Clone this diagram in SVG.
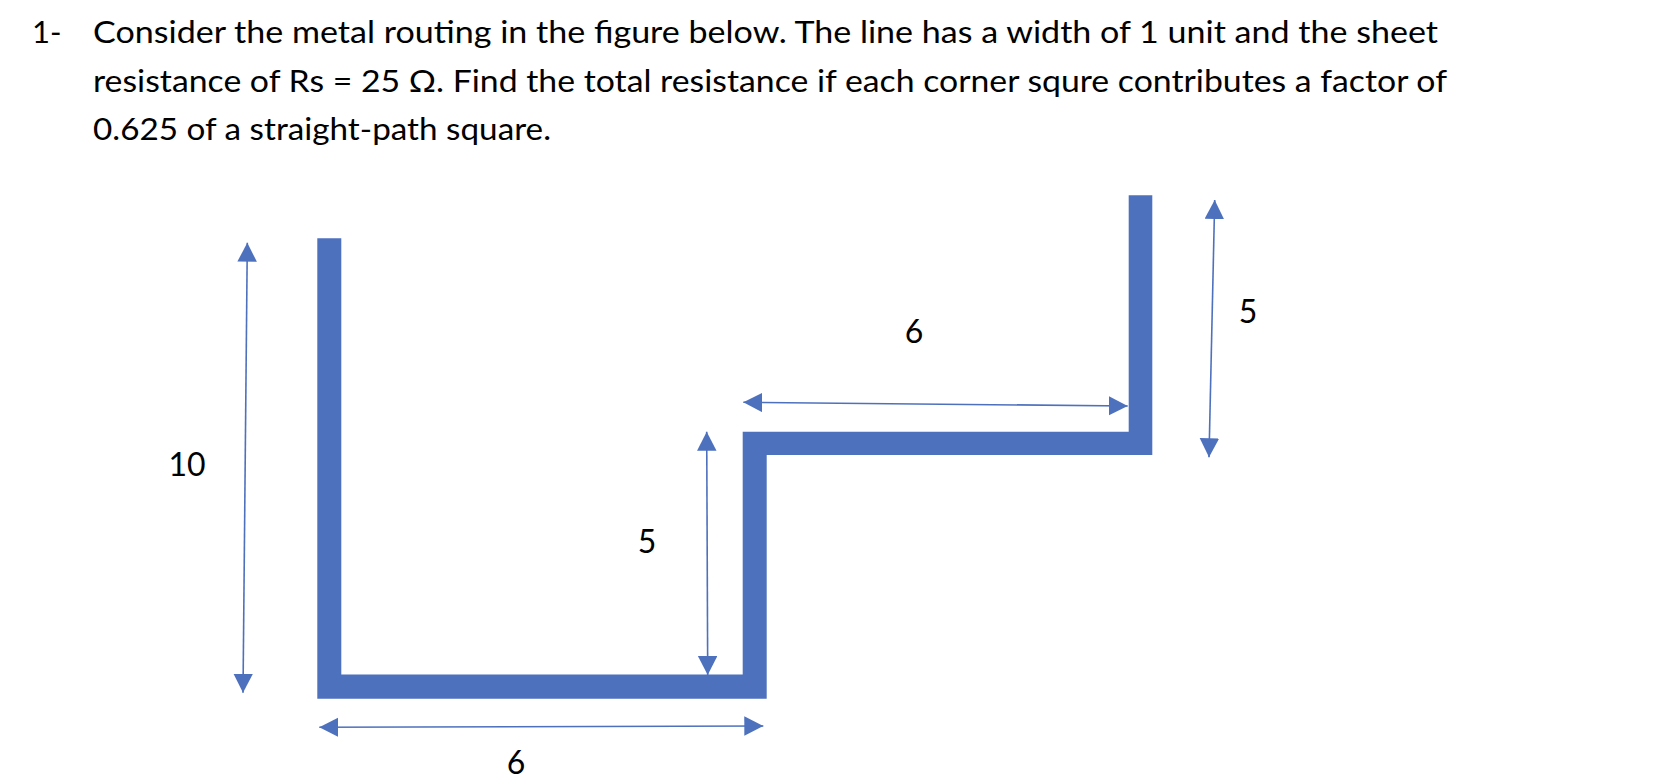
<svg xmlns="http://www.w3.org/2000/svg" width="1656" height="784" viewBox="0 0 1656 784">
  <style>
    .title { font-family: Lato, "Open Sans", "Liberation Sans", sans-serif; font-size: 31px; fill: #000000; }
    .dim { font-family: Lato, "Open Sans", "Liberation Sans", sans-serif; font-size: 32px; fill: #000000; text-anchor: middle; }
    .route { fill: #4E71BE; }
    .arrow { stroke: #4E71BE; stroke-width: 1.6; fill: none; marker-start: url(#head); marker-end: url(#head); }
  </style>
  <defs>
    <marker id="head" markerUnits="userSpaceOnUse" markerWidth="20" markerHeight="20" refX="19" refY="9.75" orient="auto-start-reverse" viewBox="0 0 20 20">
      <path d="M0,0 L19,9.75 L0,19.5 Z" fill="#4E71BE"/>
    </marker>
  </defs>
  <rect width="1656" height="784" fill="#ffffff"/>

  <g id="question">
    <text class="title" x="32" y="43">1-</text>
    <text class="title" x="93" y="43" textLength="1345" lengthAdjust="spacingAndGlyphs">Consider the metal routing in the figure below. The line has a width of 1 unit and the sheet</text>
    <text class="title" x="93" y="92" textLength="1354" lengthAdjust="spacingAndGlyphs">resistance of Rs = 25 Ω. Find the total resistance if each corner squre contributes a factor of</text>
    <text class="title" x="93" y="140" textLength="458" lengthAdjust="spacingAndGlyphs">0.625 of a straight-path square.</text>
  </g>

  <g id="metal-route">
    <path class="route" d="M317.3,238.3 L341.3,238.3 L341.3,674.5 L742.7,674.5 L742.7,431.7 L1128.7,431.7 L1128.7,195.3 L1152.3,195.3 L1152.3,455 L766.7,455 L766.7,698.7 L317.3,698.7 Z"/>
  </g>

  <g id="connectors">
    <line class="arrow" x1="247.3" y1="242.7" x2="243" y2="692.7"/>
    <line class="arrow" x1="706.7" y1="431.7" x2="707.7" y2="675"/>
    <line class="arrow" x1="319.3" y1="727.3" x2="763.3" y2="726"/>
    <line class="arrow" x1="743.3" y1="402.3" x2="1127.7" y2="406"/>
    <line class="arrow" x1="1214.7" y1="200" x2="1209" y2="457.3"/>
  </g>

  <g id="label-10"><text class="dim" x="187" y="476">10</text></g>
  <g id="label-5-mid"><text class="dim" x="647" y="553">5</text></g>
  <g id="label-6-bottom"><text class="dim" x="516" y="774">6</text></g>
  <g id="label-6-top"><text class="dim" x="914" y="343">6</text></g>
  <g id="label-5-right"><text class="dim" x="1248" y="323">5</text></g>
</svg>
